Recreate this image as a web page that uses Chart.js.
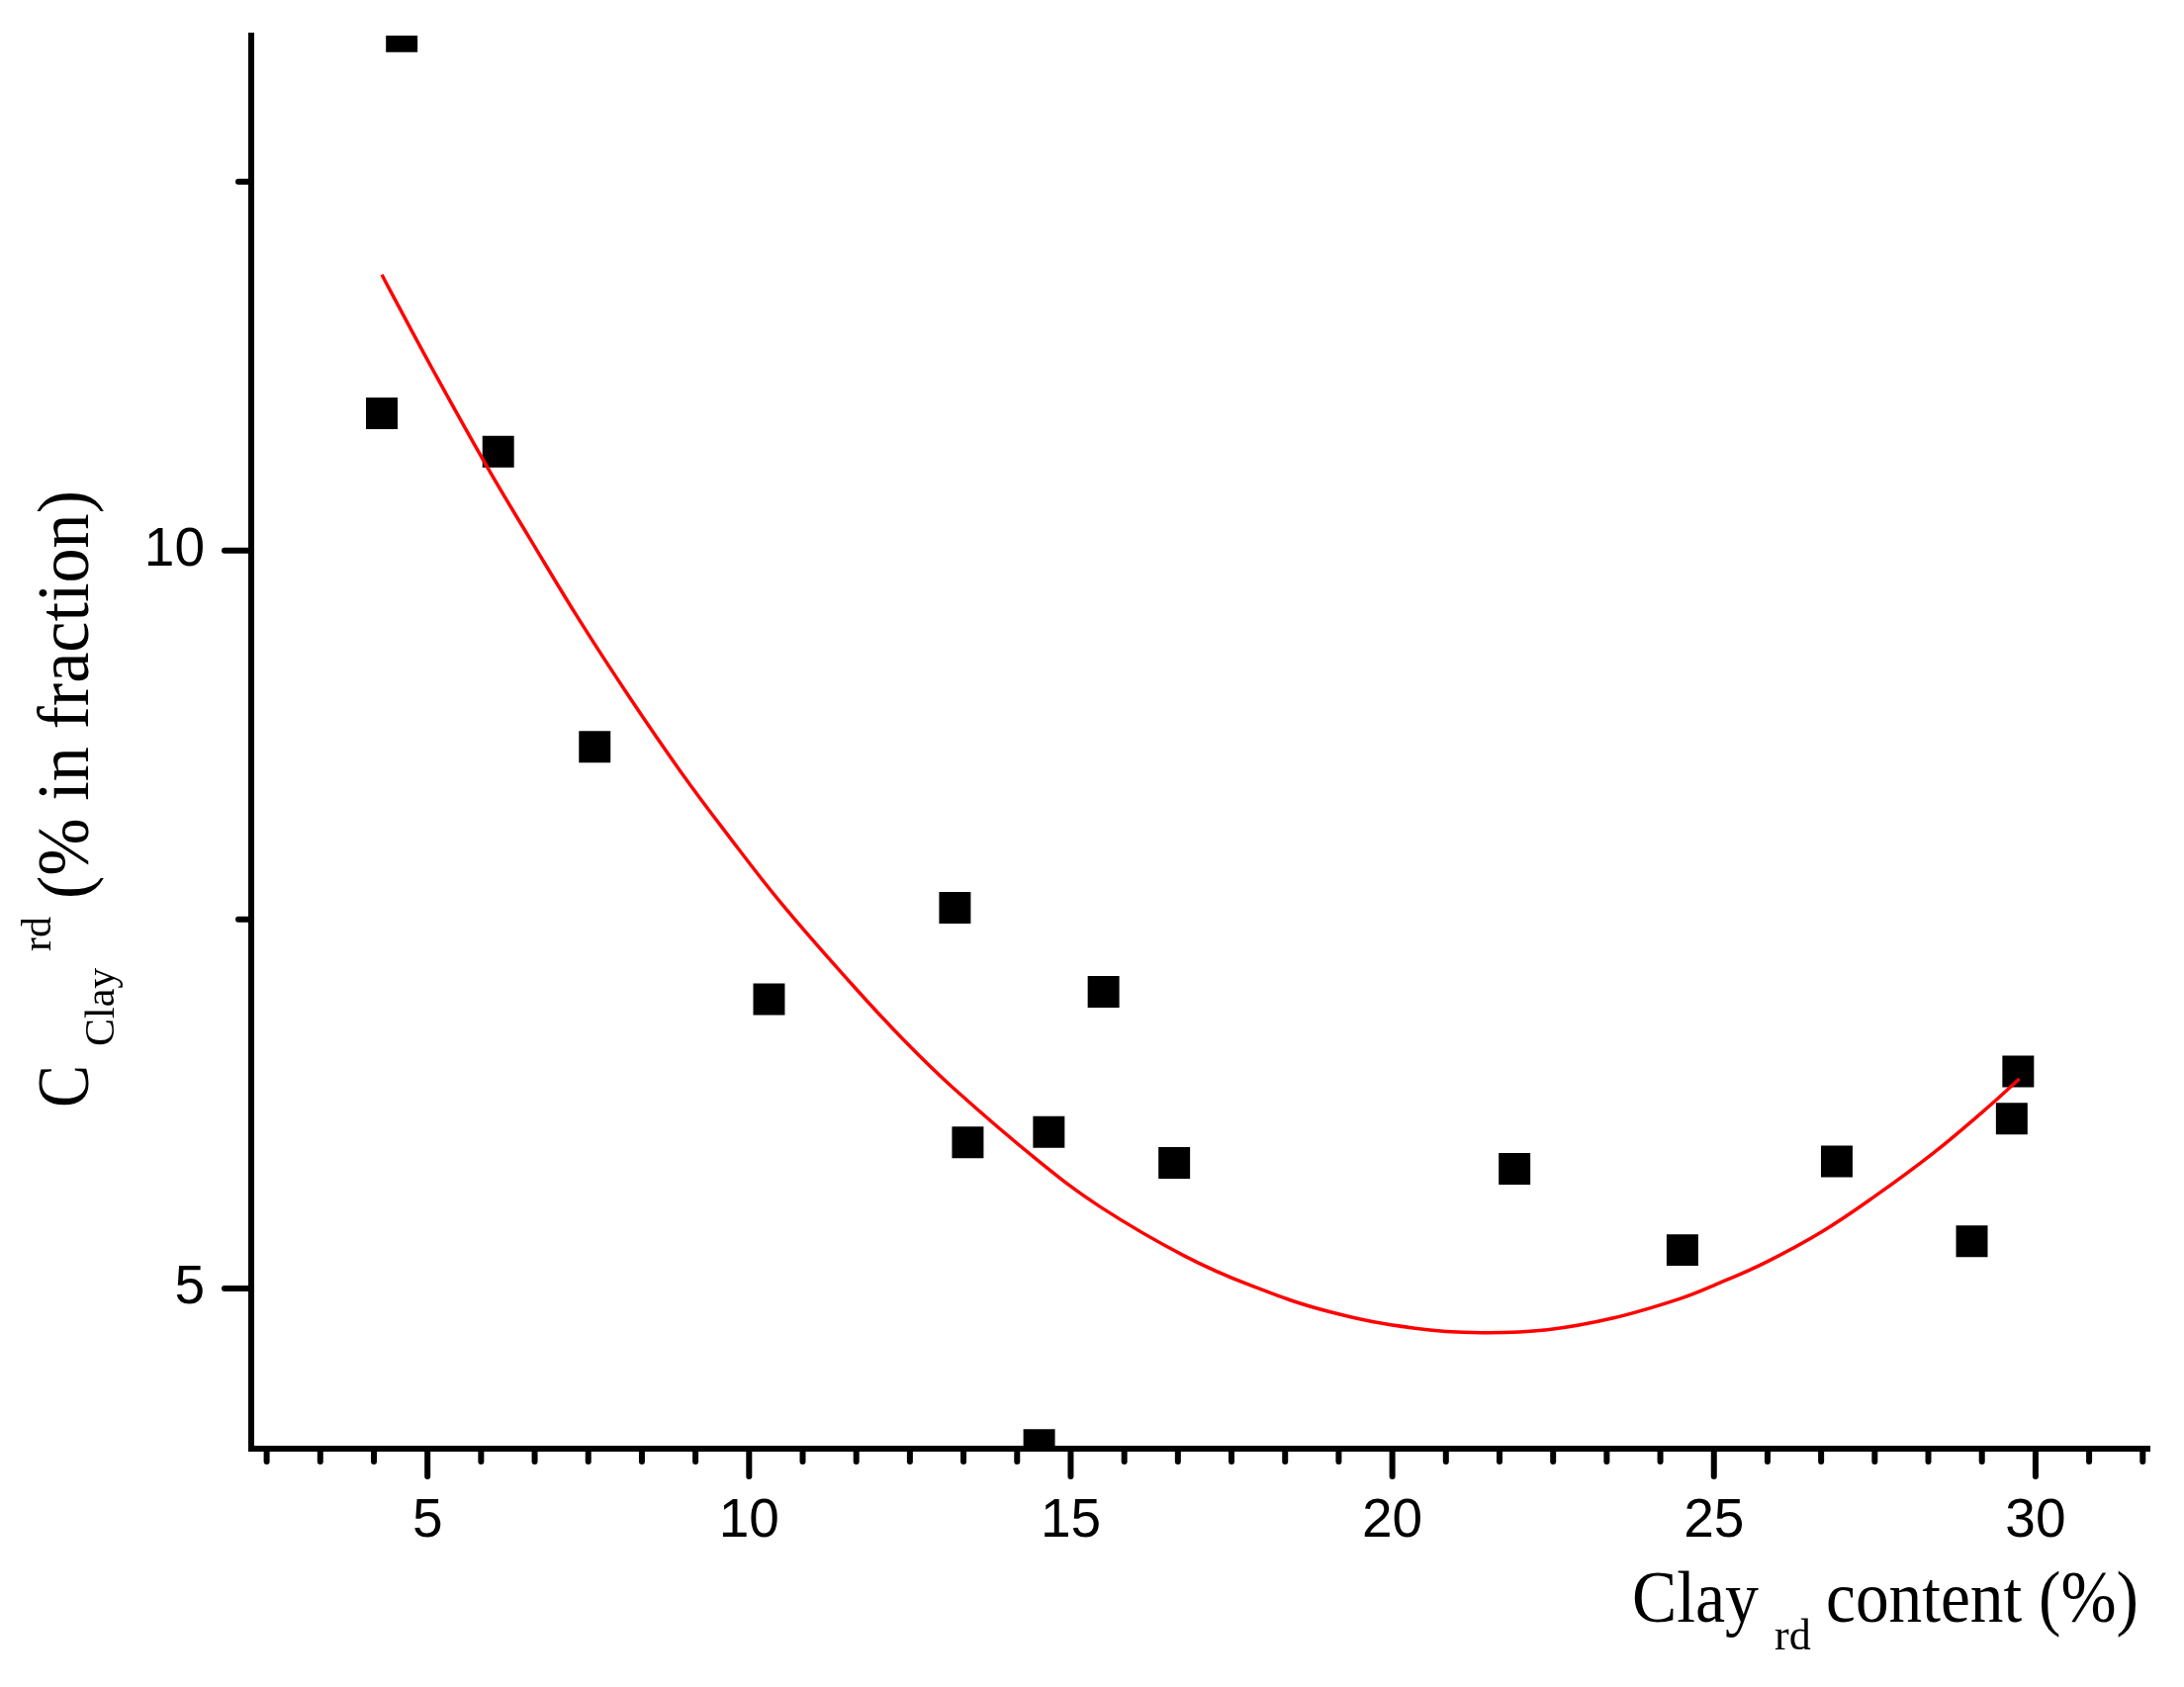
<!DOCTYPE html>
<html>
<head>
<meta charset="utf-8">
<title>C clay rd vs clay rd content</title>
<script src="https://cdn.jsdelivr.net/npm/chart.js@4.4.1/dist/chart.umd.min.js"></script>
<style>
    html, body { margin: 0; padding: 0; background: #ffffff; }
    canvas { display: block; }
</style>
</head>
<body>
<canvas id="myChart" width="2208" height="1706"></canvas>
<script>
var clayContent = [4.60, 4.29, 6.10, 7.60, 10.31, 13.20, 13.40, 14.66, 14.51, 15.51, 16.61, 21.90, 24.51, 26.91, 29.01, 29.63, 29.73];
var cClay = [13.485, 10.93, 10.67, 8.67, 6.96, 7.58, 5.99, 6.06, 3.94, 7.01, 5.85, 5.81, 5.26, 5.86, 5.32, 6.15, 6.47];

// red fit curve
var fitX = [4.29, 4.46, 5.09, 5.95, 6.58, 7.36, 8.15, 8.94, 9.64, 10.50, 11.60, 12.39, 13.17, 14.51, 15.47, 16.77, 17.80, 19.04, 20.35, 21.38, 22.41, 23.44, 24.47, 25.05, 25.82, 26.70, 27.52, 28.39, 29.16, 29.75];
var fitY = [11.87, 11.73, 11.22, 10.55, 10.09, 9.53, 9.00, 8.50, 8.09, 7.61, 7.06, 6.69, 6.36, 5.86, 5.55, 5.22, 5.02, 4.84, 4.73, 4.70, 4.72, 4.80, 4.93, 5.03, 5.18, 5.39, 5.63, 5.91, 6.19, 6.42];

var xTickLabels = [5, 10, 15, 20, 25, 30];
var yTickLabels = [5, 10];
var yMinorTicks = [7.5, 12.5];
var xMinorPerMajor = 6;
var xRange = [2.26, 31.77];
var yRange = [3.914, 13.49];

function toPoints(xs, ys) {
    var pts = [];
    for (var i = 0; i < xs.length; i++) {
        pts.push({ x: xs[i], y: ys[i] });
    }
    return pts;
}

// draws one piece of a title, squeezed to a length if asked
function drawPiece(ctx, text, size, len) {
    ctx.font = size + 'px "Liberation Serif", "Times New Roman", serif';
    var w = ctx.measureText(text).width;
    var s = len ? len / w : 1;
    ctx.save();
    ctx.scale(s, 1);
    ctx.fillText(text, 0, 0);
    ctx.restore();
}

var axisDecor = {
    id: 'axisDecor',
    afterDraw: function (chart) {
        var ctx = chart.ctx;
        var xs = chart.scales.x;
        var ys = chart.scales.y;
        var area = chart.chartArea;

        ctx.save();
        ctx.strokeStyle = '#000';
        ctx.fillStyle = '#000';
        ctx.lineWidth = 6;
        ctx.lineCap = 'round';

        // x ticks: majors every 5, five minors between
        var step = (xTickLabels[1] - xTickLabels[0]) / xMinorPerMajor;
        for (var n = Math.ceil(xs.min / step); n * step <= xs.max; n++) {
            var px = xs.getPixelForValue(n * step);
            var len = (n % xMinorPerMajor === 0) ? 28 : 13;
            ctx.beginPath();
            ctx.moveTo(px, area.bottom);
            ctx.lineTo(px, area.bottom + len);
            ctx.stroke();
        }

        // y ticks
        yTickLabels.concat(yMinorTicks).forEach(function (v) {
            var py = ys.getPixelForValue(v);
            var len = yTickLabels.indexOf(v) >= 0 ? 27 : 13;
            ctx.beginPath();
            ctx.moveTo(area.left, py);
            ctx.lineTo(area.left - len, py);
            ctx.stroke();
        });

        // y title, rotated
        ctx.textBaseline = 'alphabetic';
        ctx.textAlign = 'left';
        var yParts = [
            ['C', 74, 89, 1120, 43],
            ['Clay', 42, 115, 1058, 0],
            ['rd', 42, 51, 962, 0],
            ['(% in fraction)', 74, 89, 909, 413]
        ];
        yParts.forEach(function (p) {
            ctx.save();
            ctx.translate(p[2], p[3]);
            ctx.rotate(-Math.PI / 2);
            drawPiece(ctx, p[0], p[1], p[4]);
            ctx.restore();
        });

        // x title
        var xParts = [
            ['Clay', 74, 1650, 1640, 128],
            ['rd', 44, 1794, 1668, 0],
            ['content (%)', 74, 1846, 1640, 316]
        ];
        xParts.forEach(function (p) {
            ctx.save();
            ctx.translate(p[2], p[3]);
            drawPiece(ctx, p[0], p[1], p[4]);
            ctx.restore();
        });

        ctx.restore();
    }
};

var tickFont = { family: '"Liberation Sans", Arial, sans-serif', size: 55, lineHeight: 1 };

var ctx = document.getElementById('myChart').getContext('2d');
var myChart = new Chart(ctx, {
    type: 'scatter',
    data: {
        datasets: [{
            label: 'fit',
            data: toPoints(fitX, fitY),
            showLine: true,
            borderColor: '#ff0000',
            borderWidth: 3.5,
            pointRadius: 0,
            tension: 0.4,
            fill: false
        }, {
            label: 'samples',
            data: toPoints(clayContent, cClay),
            pointStyle: 'rect',
            pointRadius: 22.6,
            pointHoverRadius: 22.6,
            backgroundColor: '#000000',
            borderColor: '#000000',
            borderWidth: 0
        }]
    },
    options: {
        responsive: false,
        devicePixelRatio: 1,
        animation: false,
        events: [],
        layout: { padding: { left: 0, top: 36, right: 35, bottom: 0 } },
        plugins: {
            legend: { display: false },
            tooltip: { enabled: false },
            title: { display: false }
        },
        scales: {
            x: {
                type: 'linear',
                position: 'bottom',
                min: xRange[0],
                max: xRange[1],
                afterBuildTicks: function (scale) {
                    scale.ticks = xTickLabels.map(function (v) { return { value: v }; });
                },
                afterFit: function (scale) {
                    scale.height = 241;
                    scale.paddingLeft = 0;
                    scale.paddingRight = 0;
                },
                grid: { display: false, drawTicks: false },
                border: { display: true, color: '#000', width: 6 },
                ticks: {
                    color: '#000',
                    font: tickFont,
                    padding: 46,
                    maxRotation: 0,
                    autoSkip: false,
                    callback: function (v) { return String(v); }
                }
            },
            y: {
                type: 'linear',
                position: 'left',
                min: yRange[0],
                max: yRange[1],
                afterBuildTicks: function (scale) {
                    scale.ticks = yTickLabels.map(function (v) { return { value: v }; });
                },
                afterFit: function (scale) {
                    scale.width = 254;
                    scale.paddingTop = 0;
                    scale.paddingBottom = 0;
                },
                grid: { display: false, drawTicks: false },
                border: { display: true, color: '#000', width: 6 },
                ticks: {
                    color: '#000',
                    font: tickFont,
                    padding: 47,
                    autoSkip: false,
                    callback: function (v) { return String(v); }
                }
            }
        }
    },
    plugins: [axisDecor]
});
</script>
</body>
</html>
